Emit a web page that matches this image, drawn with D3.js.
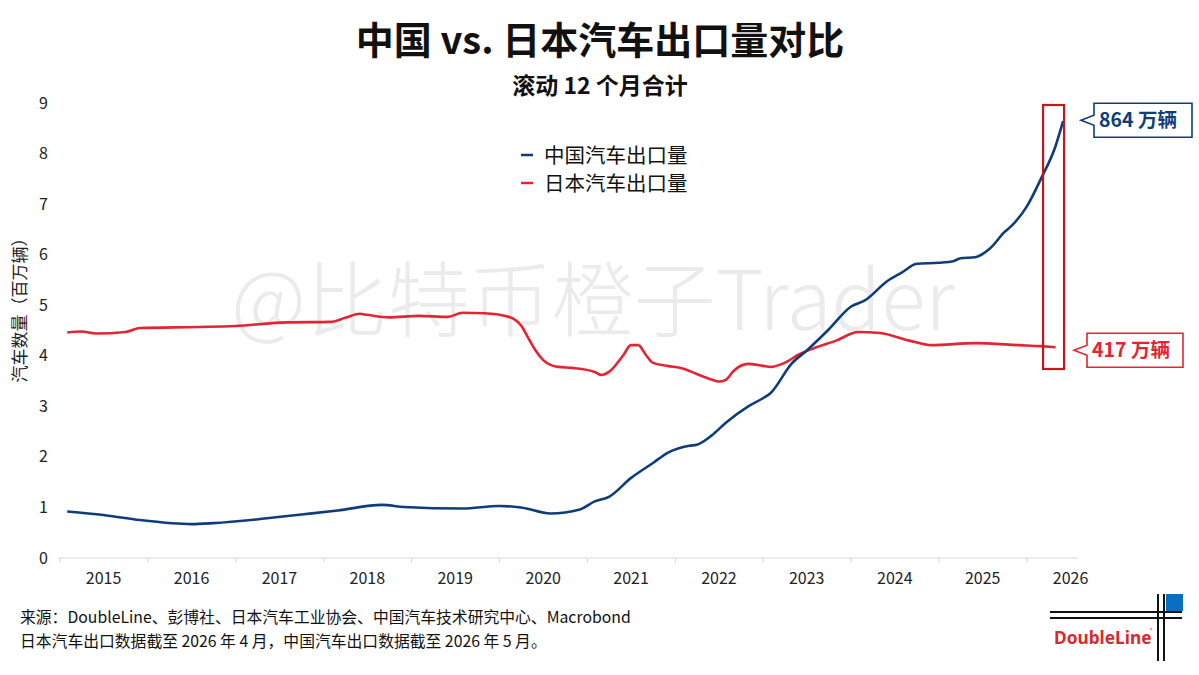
<!DOCTYPE html>
<html>
<head>
<meta charset="utf-8">
<script src="https://cdn.jsdelivr.net/npm/d3@7"></script>
<style>
  body { margin: 0; background: #fff; }
  svg { font-family: "Noto Sans CJK SC", "Noto Sans", sans-serif; }
</style>
</head>
<body>
<svg id="chart" width="1199" height="675"></svg>
<script>
// years on the x axis
const years = [2015, 2016, 2017, 2018, 2019, 2020, 2021, 2022, 2023, 2024, 2025, 2026];
const yTicks = [0, 1, 2, 3, 4, 5, 6, 7, 8, 9];

// China, rolling 12 month total, millions
const chinaDates = ["2015-01","2015-06","2015-11","2016-06","2016-09","2017-04","2017-09","2018-02",
  "2018-08","2018-11","2019-07","2019-12","2020-03","2020-07","2020-11","2021-01","2021-03",
  "2021-06","2021-09","2021-11","2022-02","2022-03","2022-05","2022-07","2022-10","2022-12",
  "2023-01","2023-04","2023-06","2023-09","2023-12","2024-02","2024-05","2024-07","2024-09",
  "2024-12","2025-02","2025-03","2025-05","2025-07","2025-09","2025-10","2025-12","2026-02",
  "2026-04","2026-05"];
const chinaValues = [0.92,0.85,0.75,0.67,0.69,0.78,0.86,0.94,
  1.05,1.01,0.98,1.03,1.00,0.88,0.96,1.12,1.21,
  1.58,1.88,2.08,2.22,2.24,2.42,2.68,3.00,3.16,
  3.26,3.85,4.10,4.52,4.97,5.10,5.48,5.65,5.82,
  5.84,5.87,5.93,5.95,6.12,6.45,6.58,6.95,7.50,
  8.15,8.64];

// Japan, rolling 12 month total, millions
const japanDates = ["2015-01","2015-03","2015-05","2015-09","2015-11","2016-07","2016-12","2017-07",
  "2018-01","2018-03","2018-05","2018-06","2018-09","2019-01","2019-05","2019-07","2019-10",
  "2020-01","2020-02","2020-03","2020-04","2020-05","2020-06","2020-07","2020-08","2020-10",
  "2021-01","2021-02","2021-03","2021-05","2021-06","2021-07","2021-08","2021-09","2021-11",
  "2022-01","2022-03","2022-05","2022-06","2022-07","2022-08","2022-10","2022-12",
  "2023-01","2023-03","2023-05","2023-07","2023-10","2024-01","2024-04","2024-08","2024-11",
  "2025-05","2025-11","2026-02","2026-04"];
const japanValues = [4.46,4.48,4.44,4.47,4.55,4.57,4.59,4.66,
  4.67,4.75,4.83,4.81,4.76,4.79,4.77,4.85,4.84,
  4.78,4.73,4.60,4.35,4.10,3.92,3.82,3.78,3.76,
  3.68,3.62,3.68,4.02,4.21,4.21,4.02,3.86,3.80,
  3.75,3.64,3.53,3.49,3.53,3.70,3.84,3.80,
  3.78,3.86,4.03,4.15,4.30,4.47,4.45,4.30,4.21,
  4.25,4.21,4.19,4.17];

const seriesNames = ["中国汽车出口量", "日本汽车出口量"];
const endLabels = ["864 万辆", "417 万辆"];
const blue = "#0f3d7a", red = "#e42433";

const svg = d3.select("#chart");

// month points sit at the month end
const toDate = s => { const [yy, mm] = s.split("-").map(Number); return new Date(yy, mm, 0); };
const china = chinaDates.map((d, i) => ({ date: toDate(d), value: chinaValues[i] }));
const japan = japanDates.map((d, i) => ({ date: toDate(d), value: japanValues[i] }));

const x = d3.scaleTime()
  .domain([new Date(2015, 0, 1), new Date(2027, 0, 1)])
  .range([60, 60 + 87.9 * 12]);
const y = d3.scaleLinear().domain([0, 9]).range([558, 103]);

// watermark
svg.append("text")
  .attr("x", 593).attr("y", 330)
  .attr("text-anchor", "middle")
  .attr("font-size", 82)
  .attr("font-weight", 300)
  .attr("fill", "#ebebed")
  .text("@比特币橙子Trader");

// x axis baseline and year ticks
svg.append("line")
  .attr("x1", 58).attr("x2", 1078).attr("y1", y(0)).attr("y2", y(0))
  .attr("stroke", "#d9d9d9").attr("stroke-width", 1);
svg.append("g").selectAll("line")
  .data(years)
  .join("line")
  .attr("x1", d => x(new Date(d, 0, 1))).attr("x2", d => x(new Date(d, 0, 1)))
  .attr("y1", y(0)).attr("y2", y(0) + 5)
  .attr("stroke", "#d9d9d9");
svg.append("g").selectAll("text")
  .data(years)
  .join("text")
  .attr("x", d => x(new Date(d, 6, 1)))
  .attr("y", 584)
  .attr("text-anchor", "middle")
  .attr("font-size", 16)
  .attr("fill", "#222")
  .text(d => d);

// y axis labels
svg.append("g").selectAll("text")
  .data(yTicks)
  .join("text")
  .attr("x", 48)
  .attr("y", d => y(d) + 5.5)
  .attr("text-anchor", "end")
  .attr("font-size", 16)
  .attr("fill", "#222")
  .text(d => d);
svg.append("text")
  .attr("transform", "translate(26,306) rotate(-90)")
  .attr("text-anchor", "middle")
  .attr("font-size", 17)
  .attr("fill", "#222")
  .text("汽车数量（百万辆）");

// titles
svg.append("text")
  .attr("x", 600).attr("y", 54)
  .attr("text-anchor", "middle")
  .attr("font-size", 38).attr("font-weight", 700)
  .attr("fill", "#111")
  .text("中国 vs. 日本汽车出口量对比");
svg.append("text")
  .attr("x", 600).attr("y", 94)
  .attr("text-anchor", "middle")
  .attr("font-size", 23).attr("font-weight", 700)
  .attr("fill", "#111")
  .text("滚动 12 个月合计");

// lines
const line = d3.line()
  .x(d => x(d.date))
  .y(d => y(d.value))
  .curve(d3.curveMonotoneX);
svg.append("path").datum(japan)
  .attr("d", line).attr("fill", "none")
  .attr("stroke", red).attr("stroke-width", 2.6);
svg.append("path").datum(china)
  .attr("d", line).attr("fill", "none")
  .attr("stroke", blue).attr("stroke-width", 2.6);

// legend
const legend = svg.append("g").selectAll("g")
  .data(seriesNames)
  .join("g")
  .attr("transform", (d, i) => `translate(521,${155 + i * 28})`);
legend.append("line")
  .attr("x1", 0).attr("x2", 12).attr("y1", 0).attr("y2", 0)
  .attr("stroke", (d, i) => i ? red : blue).attr("stroke-width", 2.5);
legend.append("text")
  .attr("x", 23).attr("y", 7.5)
  .attr("font-size", 20.5)
  .attr("fill", "#111")
  .text(d => d);

// highlight box over the last months
const lastDate = china[china.length - 1].date;
svg.append("rect")
  .attr("x", x(lastDate) - 20).attr("y", 105)
  .attr("width", 21).attr("height", 264)
  .attr("fill", "none")
  .attr("stroke", "#c8151d").attr("stroke-width", 2.2);

// callouts
const callouts = [
  { label: endLabels[0], color: blue, value: chinaValues[chinaValues.length - 1], left: 1094, right: 1192, dy: -1 },
  { label: endLabels[1], color: red, value: japanValues[japanValues.length - 1], left: 1087, right: 1183, dy: 3 }
];
callouts.forEach(c => {
  const cy = y(c.value) + c.dy;
  const top = cy - 17, bot = cy + 17;
  const tipX = c.left - 13;
  svg.append("path")
    .attr("d", `M${c.left},${top}H${c.right}V${bot}H${c.left}V${cy + 5}L${tipX},${cy}L${c.left},${cy - 5}Z`)
    .attr("fill", "#fff")
    .attr("stroke", c.color).attr("stroke-width", 1.6);
  svg.append("text")
    .attr("x", c.left + 5).attr("y", cy + 7)
    .attr("font-size", 19.5).attr("font-weight", 700)
    .attr("fill", c.color)
    .text(c.label);
});

// footer
svg.append("text")
  .attr("x", 20).attr("y", 623)
  .attr("font-size", 15.8)
  .attr("fill", "#111")
  .text("来源：DoubleLine、彭博社、日本汽车工业协会、中国汽车技术研究中心、Macrobond");
svg.append("text")
  .attr("x", 20).attr("y", 647)
  .attr("font-size", 15.8)
  .attr("fill", "#111")
  .text("日本汽车出口数据截至 2026 年 4 月，中国汽车出口数据截至 2026 年 5 月。");

// logo
const logo = svg.append("g");
[612, 618].forEach(ly => logo.append("line")
  .attr("x1", 1050).attr("x2", 1182).attr("y1", ly).attr("y2", ly)
  .attr("stroke", "#111").attr("stroke-width", 2));
[1158, 1164].forEach(lx => logo.append("line")
  .attr("x1", lx).attr("x2", lx).attr("y1", 594).attr("y2", 661)
  .attr("stroke", "#111").attr("stroke-width", 2));
logo.append("rect")
  .attr("x", 1166).attr("y", 594).attr("width", 17).attr("height", 17)
  .attr("fill", "#0a6fc2");
logo.append("text")
  .attr("x", 1054).attr("y", 644)
  .attr("font-size", 17.3).attr("font-weight", 700)
  .attr("font-family", "Liberation Sans Narrow, Noto Sans, sans-serif")
  .attr("fill", "#d62a2f")
  .text("DoubleLine");
logo.append("text")
  .attr("x", 1150).attr("y", 632)
  .attr("font-size", 5)
  .attr("fill", "#d62a2f")
  .text("®");
</script>
</body>
</html>
